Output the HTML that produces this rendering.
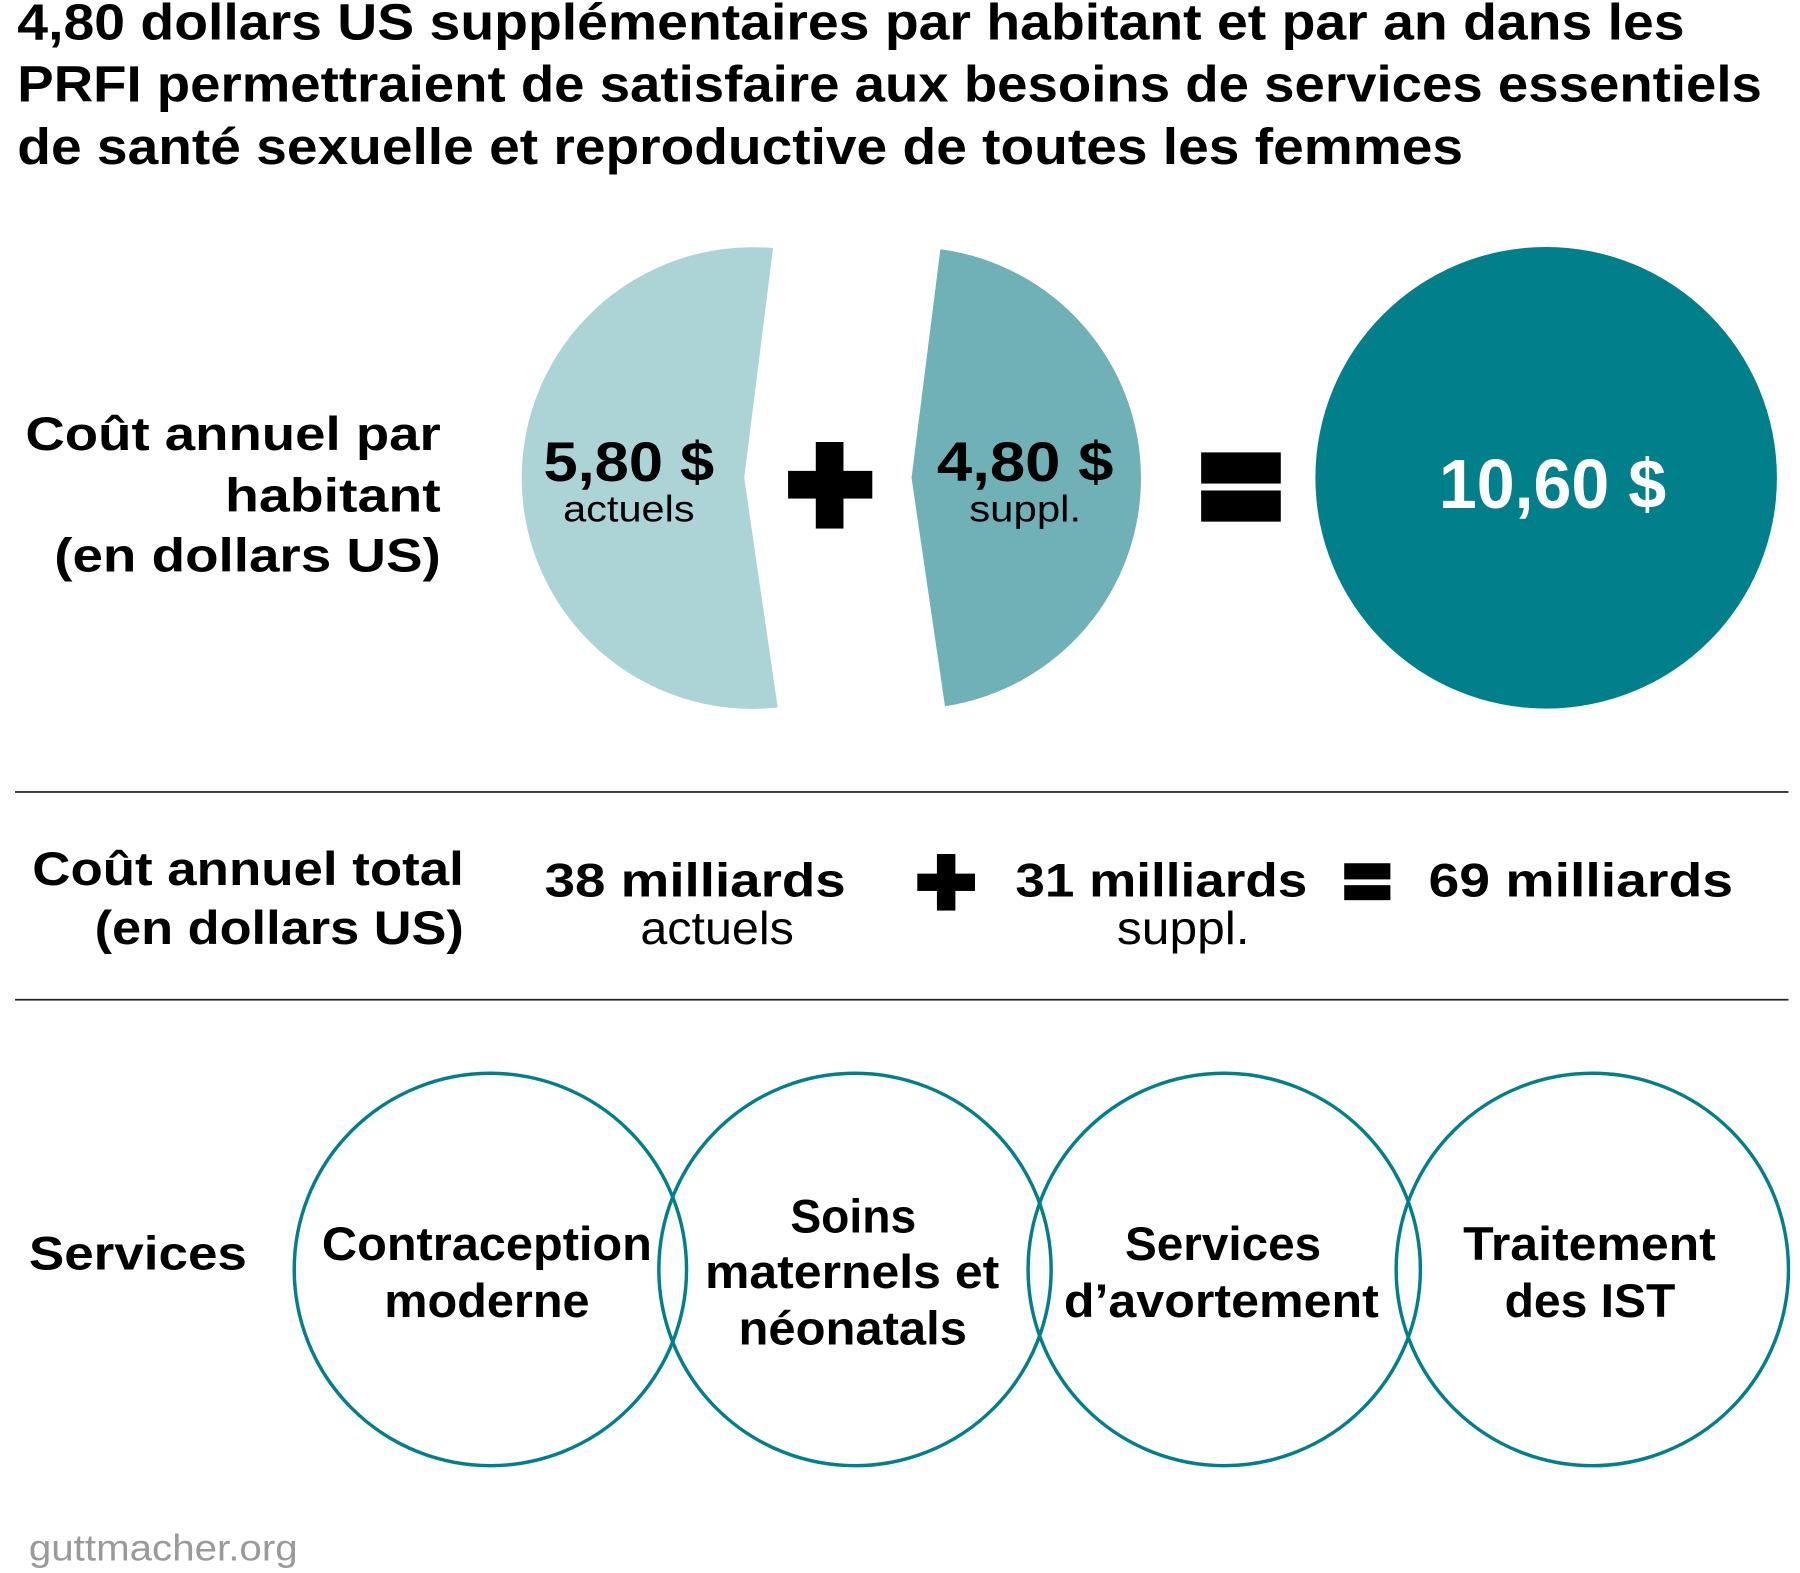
<!DOCTYPE html>
<html><head><meta charset="utf-8"><style>
html,body{margin:0;padding:0;background:#fff;}
svg{display:block;}
text{font-family:"Liberation Sans",sans-serif;}
.b{font-weight:bold;}
</style></head><body>
<svg width="1800" height="1573" viewBox="0 0 1560 1363" preserveAspectRatio="none" xmlns="http://www.w3.org/2000/svg">
<g class="b" font-size="44" fill="#000">
<text x="15" y="34" textLength="1445" lengthAdjust="spacingAndGlyphs">4,80 dollars US supplémentaires par habitant et par an dans les</text>
<text x="15" y="88" textLength="1512" lengthAdjust="spacingAndGlyphs">PRFI permettraient de satisfaire aux besoins de services essentiels</text>
<text x="15" y="142" textLength="1253" lengthAdjust="spacingAndGlyphs">de santé sexuelle et reproductive de toutes les femmes</text>
</g>
<g class="b" font-size="41">
<text x="22" y="390" textLength="360" lengthAdjust="spacingAndGlyphs">Coût annuel par</text>
<text x="195" y="443" textLength="187" lengthAdjust="spacingAndGlyphs">habitant</text>
<text x="47" y="495" textLength="335" lengthAdjust="spacingAndGlyphs">(en dollars US)</text>
</g>
<path d="M670 215 A200 200 0 1 0 674 613 L645 414 Z" fill="#acd3d6"/>
<path d="M815 216 A200 200 0 0 1 819 612 L790 414 Z" fill="#6fb1b7"/>
<circle cx="1340" cy="414" r="200" fill="#017f8a"/>
<rect x="707" y="383" width="24" height="75" fill="#000"/>
<rect x="683" y="408" width="73" height="24" fill="#000"/>
<rect x="1041" y="392" width="69" height="27" fill="#000"/>
<rect x="1041" y="425" width="69" height="27" fill="#000"/>
<text class="b" x="471" y="417" font-size="48" textLength="148" lengthAdjust="spacingAndGlyphs">5,80 $</text>
<text x="488" y="452" font-size="32" textLength="114" lengthAdjust="spacingAndGlyphs">actuels</text>
<text class="b" x="812" y="417" font-size="48" textLength="153" lengthAdjust="spacingAndGlyphs">4,80 $</text>
<text x="840" y="452" font-size="32" textLength="97" lengthAdjust="spacingAndGlyphs">suppl.</text>
<text class="b" x="1247" y="440" font-size="60" fill="#fff" textLength="197" lengthAdjust="spacingAndGlyphs">10,60 $</text>
<rect x="13" y="685.5" width="1537" height="1.5" fill="#222"/>
<rect x="13" y="865.5" width="1537" height="1.5" fill="#222"/>
<g class="b" font-size="41">
<text x="28" y="767" textLength="374" lengthAdjust="spacingAndGlyphs">Coût annuel total</text>
<text x="82" y="818" textLength="320" lengthAdjust="spacingAndGlyphs">(en dollars US)</text>
<text x="472" y="777" textLength="261" lengthAdjust="spacingAndGlyphs">38 milliards</text>
<text x="880" y="777" textLength="253" lengthAdjust="spacingAndGlyphs">31 milliards</text>
<text x="1238" y="777" textLength="264" lengthAdjust="spacingAndGlyphs">69 milliards</text>
</g>
<text x="555" y="818" font-size="40" textLength="133" lengthAdjust="spacingAndGlyphs">actuels</text>
<text x="968" y="818" font-size="40" textLength="115" lengthAdjust="spacingAndGlyphs">suppl.</text>
<rect x="812" y="740" width="16" height="49" fill="#000"/>
<rect x="795" y="757" width="50" height="15" fill="#000"/>
<rect x="1165" y="748" width="40" height="14" fill="#000"/>
<rect x="1165" y="767" width="40" height="13" fill="#000"/>
<g fill="none" stroke="#017f8a" stroke-width="3">
<circle cx="425" cy="1100" r="170"/>
<circle cx="741" cy="1100" r="170"/>
<circle cx="1061" cy="1100" r="170"/>
<circle cx="1380" cy="1100" r="170"/>
</g>
<g class="b" font-size="41">
<text x="25" y="1100" textLength="189" lengthAdjust="spacingAndGlyphs">Services</text>
<text x="279" y="1092" textLength="286" lengthAdjust="spacingAndGlyphs">Contraception</text>
<text x="333" y="1141" textLength="178" lengthAdjust="spacingAndGlyphs">moderne</text>
<text x="685" y="1068" textLength="109" lengthAdjust="spacingAndGlyphs">Soins</text>
<text x="611" y="1116" textLength="255" lengthAdjust="spacingAndGlyphs">maternels et</text>
<text x="640" y="1165" textLength="198" lengthAdjust="spacingAndGlyphs">néonatals</text>
<text x="975" y="1092" textLength="170" lengthAdjust="spacingAndGlyphs">Services</text>
<text x="922" y="1141" textLength="273" lengthAdjust="spacingAndGlyphs">d’avortement</text>
<text x="1268" y="1092" textLength="219" lengthAdjust="spacingAndGlyphs">Traitement</text>
<text x="1304" y="1141" textLength="148" lengthAdjust="spacingAndGlyphs">des IST</text>
</g>
<text x="25" y="1352" font-size="32" fill="#9a9a9a" textLength="233" lengthAdjust="spacingAndGlyphs">guttmacher.org</text>
</svg>
</body></html>
